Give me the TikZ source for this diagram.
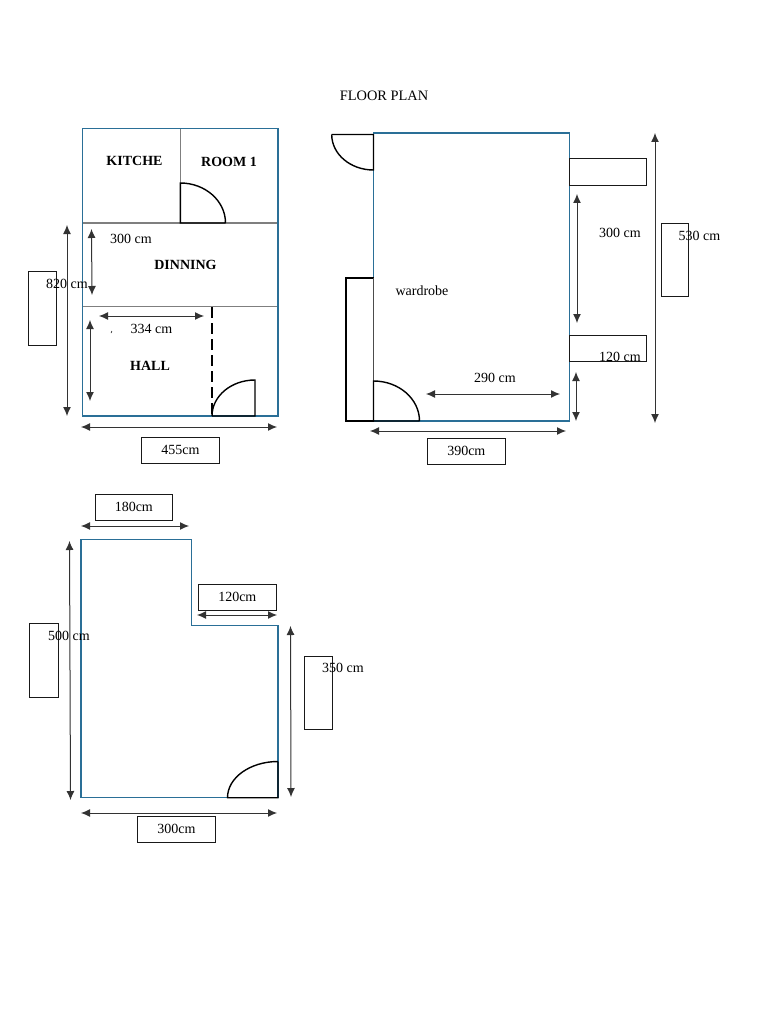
\documentclass[tikz,border=0pt]{standalone}
\usepackage{fontspec}
\setmainfont{Liberation Serif}
\usetikzlibrary{arrows.meta}
\definecolor{wallblue}{HTML}{2A6F97}
\definecolor{partgray}{HTML}{7F7F7F}
\tikzset{
	wall/.style={draw=wallblue, line width=1.3pt},
	part/.style={draw=partgray, line width=1.2pt},
	door/.style={draw=black, line width=1.4pt},
	dimarrow/.style={draw=black!80, line width=1pt, {Latex[length=9pt,width=8pt]}-{Latex[length=9pt,width=8pt]}},
	dimbox/.style={draw=black!90, line width=1pt, rectangle, inner sep=0pt},
	lbl/.style={font=\fontsize{14}{16}\selectfont, inner sep=0pt},
	roomlbl/.style={font=\fontsize{14}{16}\selectfont\bfseries, inner sep=0pt},
}
\begin{document}
\begin{tikzpicture}[x=1pt, y=-1pt]
\useasboundingbox (0,0) rectangle (768,1024);
\node[lbl, font=\fontsize{14.4}{16}\selectfont] (title) at (384,95.5) {FLOOR PLAN};

\draw[part] (82.3,223) -- (278,223);
\draw[part] (82.3,306.7) -- (278,306.7);
\draw[part] (180.3,128.7) -- (180.3,223);
\draw[wall] (82.3,128.7) rectangle (278,416);
\draw[door] (225.5,223) -- (180.3,223) -- (180.3,183) arc[start angle=90, end angle=0, x radius=45.2pt, y radius=40pt];
\draw[door, line width=1.8pt, dash pattern=on 11pt off 5pt] (212,307) -- (212,416);
\draw[door] (212,416) -- (255,416) -- (255,380) arc[start angle=90, end angle=180, x radius=43pt, y radius=36pt];
\draw[door, line width=0.5pt] (111,333) -- (112,331);
\node[roomlbl] (kitche) at (134.5,161) {KITCHE};
\node[roomlbl] (room1) at (229,161.5) {ROOM 1};
\node[roomlbl] (dinning) at (185.5,264.5) {DINNING};
\node[roomlbl] (hall) at (150,366) {HALL};
\draw[dimarrow] (67,225) -- (67,416);
\draw[dimarrow] (91.5,229) -- (92,295);
\draw[dimarrow] (99,316) -- (204,316);
\draw[dimarrow] (90,320) -- (90,401);
\draw[dimarrow] (81,427) -- (277,427);
\node[dimbox, minimum width=27.5pt, minimum height=74pt] (box820) at (42.3,308) {};
\node[lbl] (len820) at (67,284) {820 cm};
\node[lbl] (len300a) at (131,239) {300 cm};
\node[lbl] (len334) at (151.5,329) {334 cm};
\node[dimbox, lbl, draw=black!90, minimum width=78pt, minimum height=26.5pt] (box455) at (180.5,450.3) {455cm};

\draw[wall] (373.3,133) rectangle (569.3,421);
\draw[door] (331.7,134.5) -- (373.5,134.5) -- (373.5,170) arc[start angle=270, end angle=180, x radius=41.8pt, y radius=35.5pt];
\draw[door, line width=1.7pt] (373.5,277.7) -- (346,277.7) -- (346,421) -- (373.5,421);
\draw[part, draw=black!70] (373.5,277.7) -- (373.5,421);
\draw[door] (419.5,421) -- (373.5,421) -- (373.5,381) arc[start angle=90, end angle=0, x radius=46pt, y radius=40pt];
\node[dimbox, minimum width=77pt, minimum height=26.5pt] (shelftop) at (608,171.8) {};
\node[dimbox, minimum width=77pt, minimum height=26.5pt] (shelfbot) at (608,348.5) {};
\node[dimbox, minimum width=27pt, minimum height=72pt] (box530) at (675,260) {};
\draw[dimarrow] (577,194) -- (577,323);
\draw[dimarrow] (576,372) -- (576,421);
\draw[dimarrow] (426,394) -- (560,394);
\draw[dimarrow] (370,431) -- (566,431);
\draw[dimarrow] (655,133) -- (655,423);
\node[lbl] (wardrobe) at (422,290.5) {wardrobe};
\node[lbl] (len300b) at (620,232.5) {300 cm};
\node[lbl] (len530) at (699.5,235.5) {530 cm};
\node[lbl] (len120a) at (620,357) {120 cm};
\node[lbl] (len290) at (495,378) {290 cm};
\node[dimbox, lbl, draw=black!90, minimum width=77.5pt, minimum height=26pt] (box390) at (466.3,451) {390cm};

\draw[wall] (81,539.3) -- (191.3,539.3) -- (191.3,625.3) -- (278,625.3) -- (278,797.7) -- (81,797.7) -- cycle;
\draw[door] (278,761.5) -- (278,797.7) -- (227.5,797.7) arc[start angle=180, end angle=90, x radius=50.5pt, y radius=36.2pt];
\draw[dimarrow] (81,526) -- (189,526);
\draw[dimarrow] (69.5,541) -- (70.5,800);
\draw[dimarrow] (197,615) -- (277,615);
\draw[dimarrow] (290.5,626) -- (291,797);
\draw[dimarrow] (81,813) -- (277,813);
\node[dimbox, lbl, draw=black!90, minimum width=76.5pt, minimum height=26pt] (box180) at (133.8,507) {180cm};
\node[dimbox, lbl, draw=black!90, minimum width=77.5pt, minimum height=26.5pt] (box120) at (237.3,597.3) {120cm};
\node[dimbox, minimum width=28.5pt, minimum height=73.5pt] (box500) at (43.8,660.3) {};
\node[dimbox, minimum width=28.5pt, minimum height=73.5pt] (box350) at (318.3,692.8) {};
\node[dimbox, lbl, draw=black!90, minimum width=78pt, minimum height=26.5pt] (box300) at (176.5,829.3) {300cm};
\node[lbl] (len500) at (69,636) {500 cm};
\node[lbl] (len350) at (343,668) {350 cm};
\end{tikzpicture}
\end{document}
